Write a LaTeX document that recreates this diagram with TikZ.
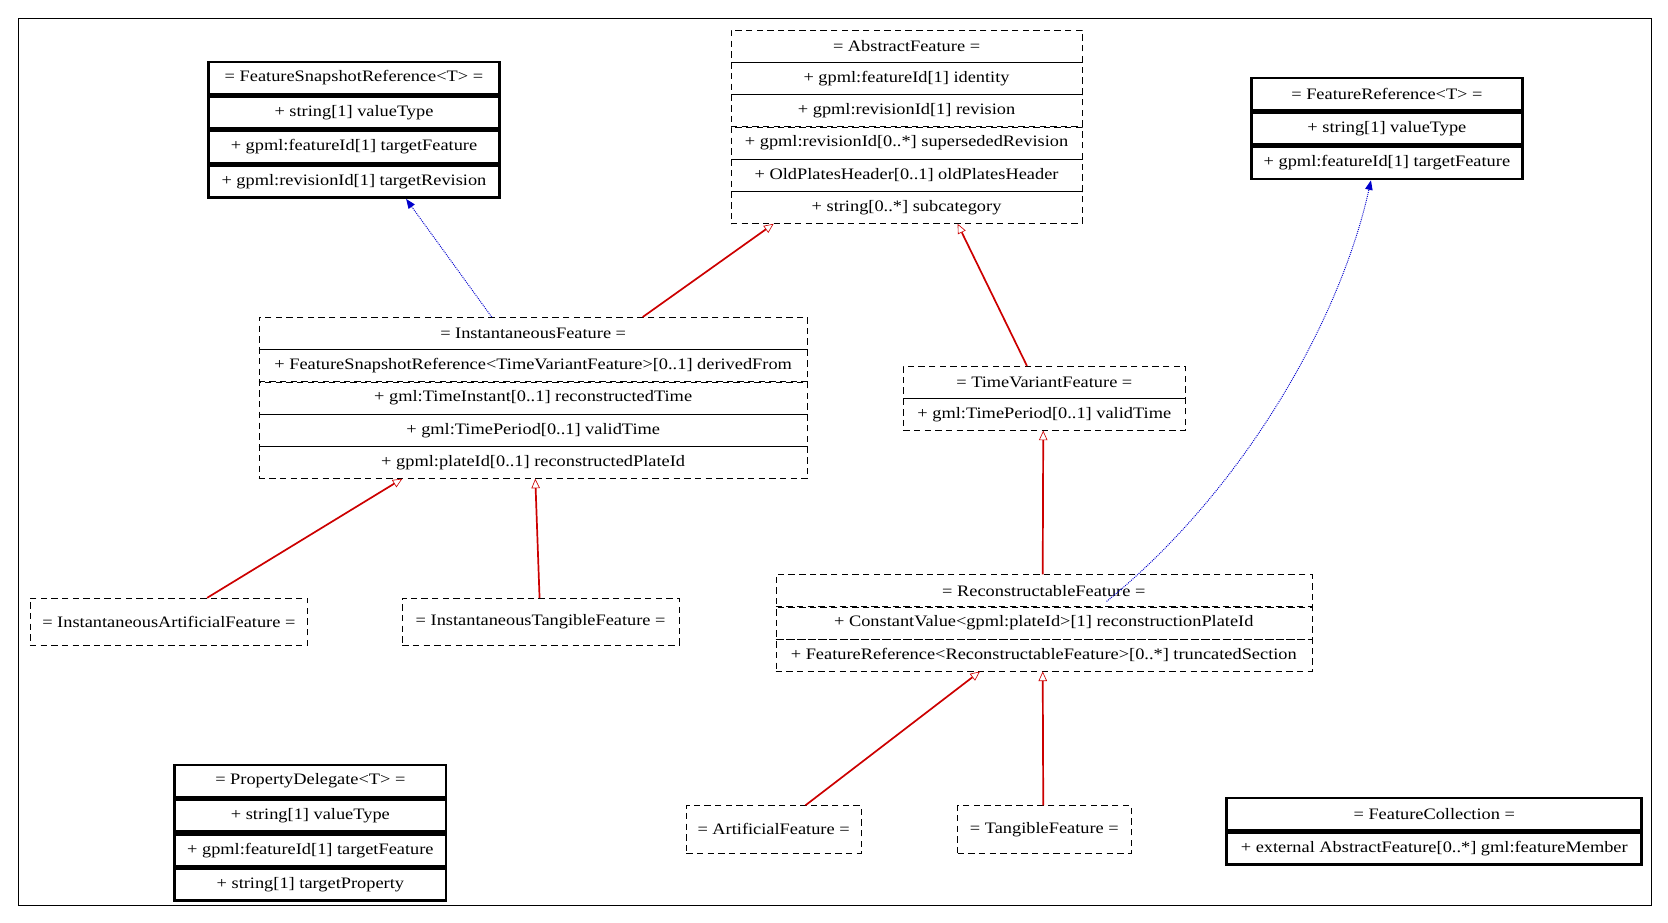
\documentclass[tikz,border=0pt]{standalone}
\usepackage{fontspec}
\setmainfont[FakeStretch=1.15]{Liberation Serif}
\usetikzlibrary{positioning,arrows.meta,calc}
\tikzset{
  row/.style={minimum height=30pt,inner sep=0pt,anchor=north west,font=\fontsize{15}{17}\selectfont},
  absrow/.style={row,draw,dashed,dash pattern=on 6pt off 4pt},
  refrow/.style={row,draw,line width=2.5pt},
  isa/.style={draw=red!80!black,line width=1.6pt,-{Triangle[open,fill=white,length=9pt,width=8pt,line width=0.6pt]}},
  use/.style={draw=blue!80!black,densely dotted,line width=0.9pt,-{Triangle[length=9pt,width=7pt]}}
}
\begin{document}
\begin{tikzpicture}[x=1pt,y=-1pt]
	\useasboundingbox (0,0) rectangle (1568,867);
	\draw (17,17) rectangle (1552,851);

	% FeatureSnapshotReference<T>
	\node[refrow,minimum width=273pt] (fsr0) at (195,57) {= FeatureSnapshotReference<T> =};
	\node[refrow,minimum width=273pt,below=0pt of fsr0.south west,anchor=north west] (fsr1) {+ string[1] valueType};
	\node[refrow,minimum width=273pt,below=0pt of fsr1.south west,anchor=north west] (fsr2) {+ gpml:featureId[1] targetFeature};
	\node[refrow,minimum width=273pt,below=0pt of fsr2.south west,anchor=north west] (fsr3) {+ gpml:revisionId[1] targetRevision};

	% AbstractFeature
	\node[absrow,minimum width=330pt] (af0) at (687,28) {= AbstractFeature =};
	\node[absrow,minimum width=330pt,below=0pt of af0.south west,anchor=north west] (af1) {+ gpml:featureId[1] identity};
	\node[absrow,minimum width=330pt,below=0pt of af1.south west,anchor=north west] (af2) {+ gpml:revisionId[1] revision};
	\node[absrow,minimum width=330pt,below=0pt of af2.south west,anchor=north west] (af3) {+ gpml:revisionId[0..*] supersededRevision};
	\node[absrow,minimum width=330pt,below=0pt of af3.south west,anchor=north west] (af4) {+ OldPlatesHeader[0..1] oldPlatesHeader};
	\node[absrow,minimum width=330pt,below=0pt of af4.south west,anchor=north west] (af5) {+ string[0..*] subcategory};

	% FeatureReference<T>
	\node[refrow,minimum width=255pt] (fr0) at (1175,72) {= FeatureReference<T> =};
	\node[refrow,minimum width=255pt,below=0pt of fr0.south west,anchor=north west] (fr1) {+ string[1] valueType};
	\node[refrow,minimum width=255pt,below=0pt of fr1.south west,anchor=north west] (fr2) {+ gpml:featureId[1] targetFeature};

	% InstantaneousFeature
	\node[absrow,minimum width=516pt] (if0) at (243,298) {= InstantaneousFeature =};
	\node[absrow,minimum width=516pt,below=0pt of if0.south west,anchor=north west] (if1) {+ FeatureSnapshotReference<TimeVariantFeature>[0..1] derivedFrom};
	\node[absrow,minimum width=516pt,below=0pt of if1.south west,anchor=north west] (if2) {+ gml:TimeInstant[0..1] reconstructedTime};
	\node[absrow,minimum width=516pt,below=0pt of if2.south west,anchor=north west] (if3) {+ gml:TimePeriod[0..1] validTime};
	\node[absrow,minimum width=516pt,below=0pt of if3.south west,anchor=north west] (if4) {+ gpml:plateId[0..1] reconstructedPlateId};

	% TimeVariantFeature
	\node[absrow,minimum width=265pt] (tv0) at (849,344) {= TimeVariantFeature =};
	\node[absrow,minimum width=265pt,below=0pt of tv0.south west,anchor=north west] (tv1) {+ gml:TimePeriod[0..1] validTime};

	% instantaneous leaves
	\node[absrow,minimum width=261pt,minimum height=44pt] (iaf) at (28,562) {= InstantaneousArtificialFeature =};
	\node[absrow,minimum width=260pt,minimum height=44pt] (itf) at (378,562) {= InstantaneousTangibleFeature =};

	% ReconstructableFeature
	\node[absrow,minimum width=504pt] (rf0) at (729,540) {= ReconstructableFeature =};
	\node[absrow,minimum width=504pt,below=0pt of rf0.south west,anchor=north west] (rf1) {+ ConstantValue<gpml:plateId>[1] reconstructionPlateId};
	\node[absrow,minimum width=504pt,below=0pt of rf1.south west,anchor=north west] (rf2) {+ FeatureReference<ReconstructableFeature>[0..*] truncatedSection};

	% PropertyDelegate<T>
	\node[refrow,minimum width=255pt] (pd0) at (163,718) {= PropertyDelegate<T> =};
	\node[refrow,minimum width=255pt,below=0pt of pd0.south west,anchor=north west] (pd1) {+ string[1] valueType};
	\node[refrow,minimum width=255pt,below=0pt of pd1.south west,anchor=north west] (pd2) {+ gpml:featureId[1] targetFeature};
	\node[refrow,minimum width=255pt,below=0pt of pd2.south west,anchor=north west] (pd3) {+ string[1] targetProperty};

	% reconstructable leaves
	\node[absrow,minimum width=164pt,minimum height=45pt] (arf) at (645,757) {= ArtificialFeature =};
	\node[absrow,minimum width=163pt,minimum height=45pt] (tgf) at (900,757) {= TangibleFeature =};

	% FeatureCollection
	\node[refrow,minimum width=390pt] (fc0) at (1152,749) {= FeatureCollection =};
	\node[refrow,minimum width=390pt,below=0pt of fc0.south west,anchor=north west] (fc1) {+ external AbstractFeature[0..*] gml:featureMember};

	% generalisations
	\draw[isa] ([xshift=103pt]if0.north) -- ([xshift=-125pt]af5.south);
	\draw[isa] ([xshift=-149pt]tv0.north east) -- ([xshift=48pt]af5.south);
	\draw[isa] ([xshift=36pt]iaf.north) -- ([xshift=-123pt]if4.south);
	\draw[isa] ([xshift=-1pt]itf.north) -- ([xshift=2pt]if4.south);
	\draw[isa] ([xshift=-1pt]rf0.north) -- ([xshift=-1pt]tv1.south);
	\draw[isa] ([xshift=30pt]arf.north) -- ([xshift=-60pt]rf2.south);
	\draw[isa] ([xshift=-1pt]tgf.north) -- ([xshift=-1pt]rf2.south);

	% references
	\draw[use] ([xshift=-39pt]if0.north) -- ([xshift=49pt]fsr3.south);
	\draw[use] ([xshift=59pt,yshift=5pt]rf0.south) .. controls (1170,460) and (1260,300) .. ([xshift=-15pt]fr2.south);
\end{tikzpicture}
\end{document}
